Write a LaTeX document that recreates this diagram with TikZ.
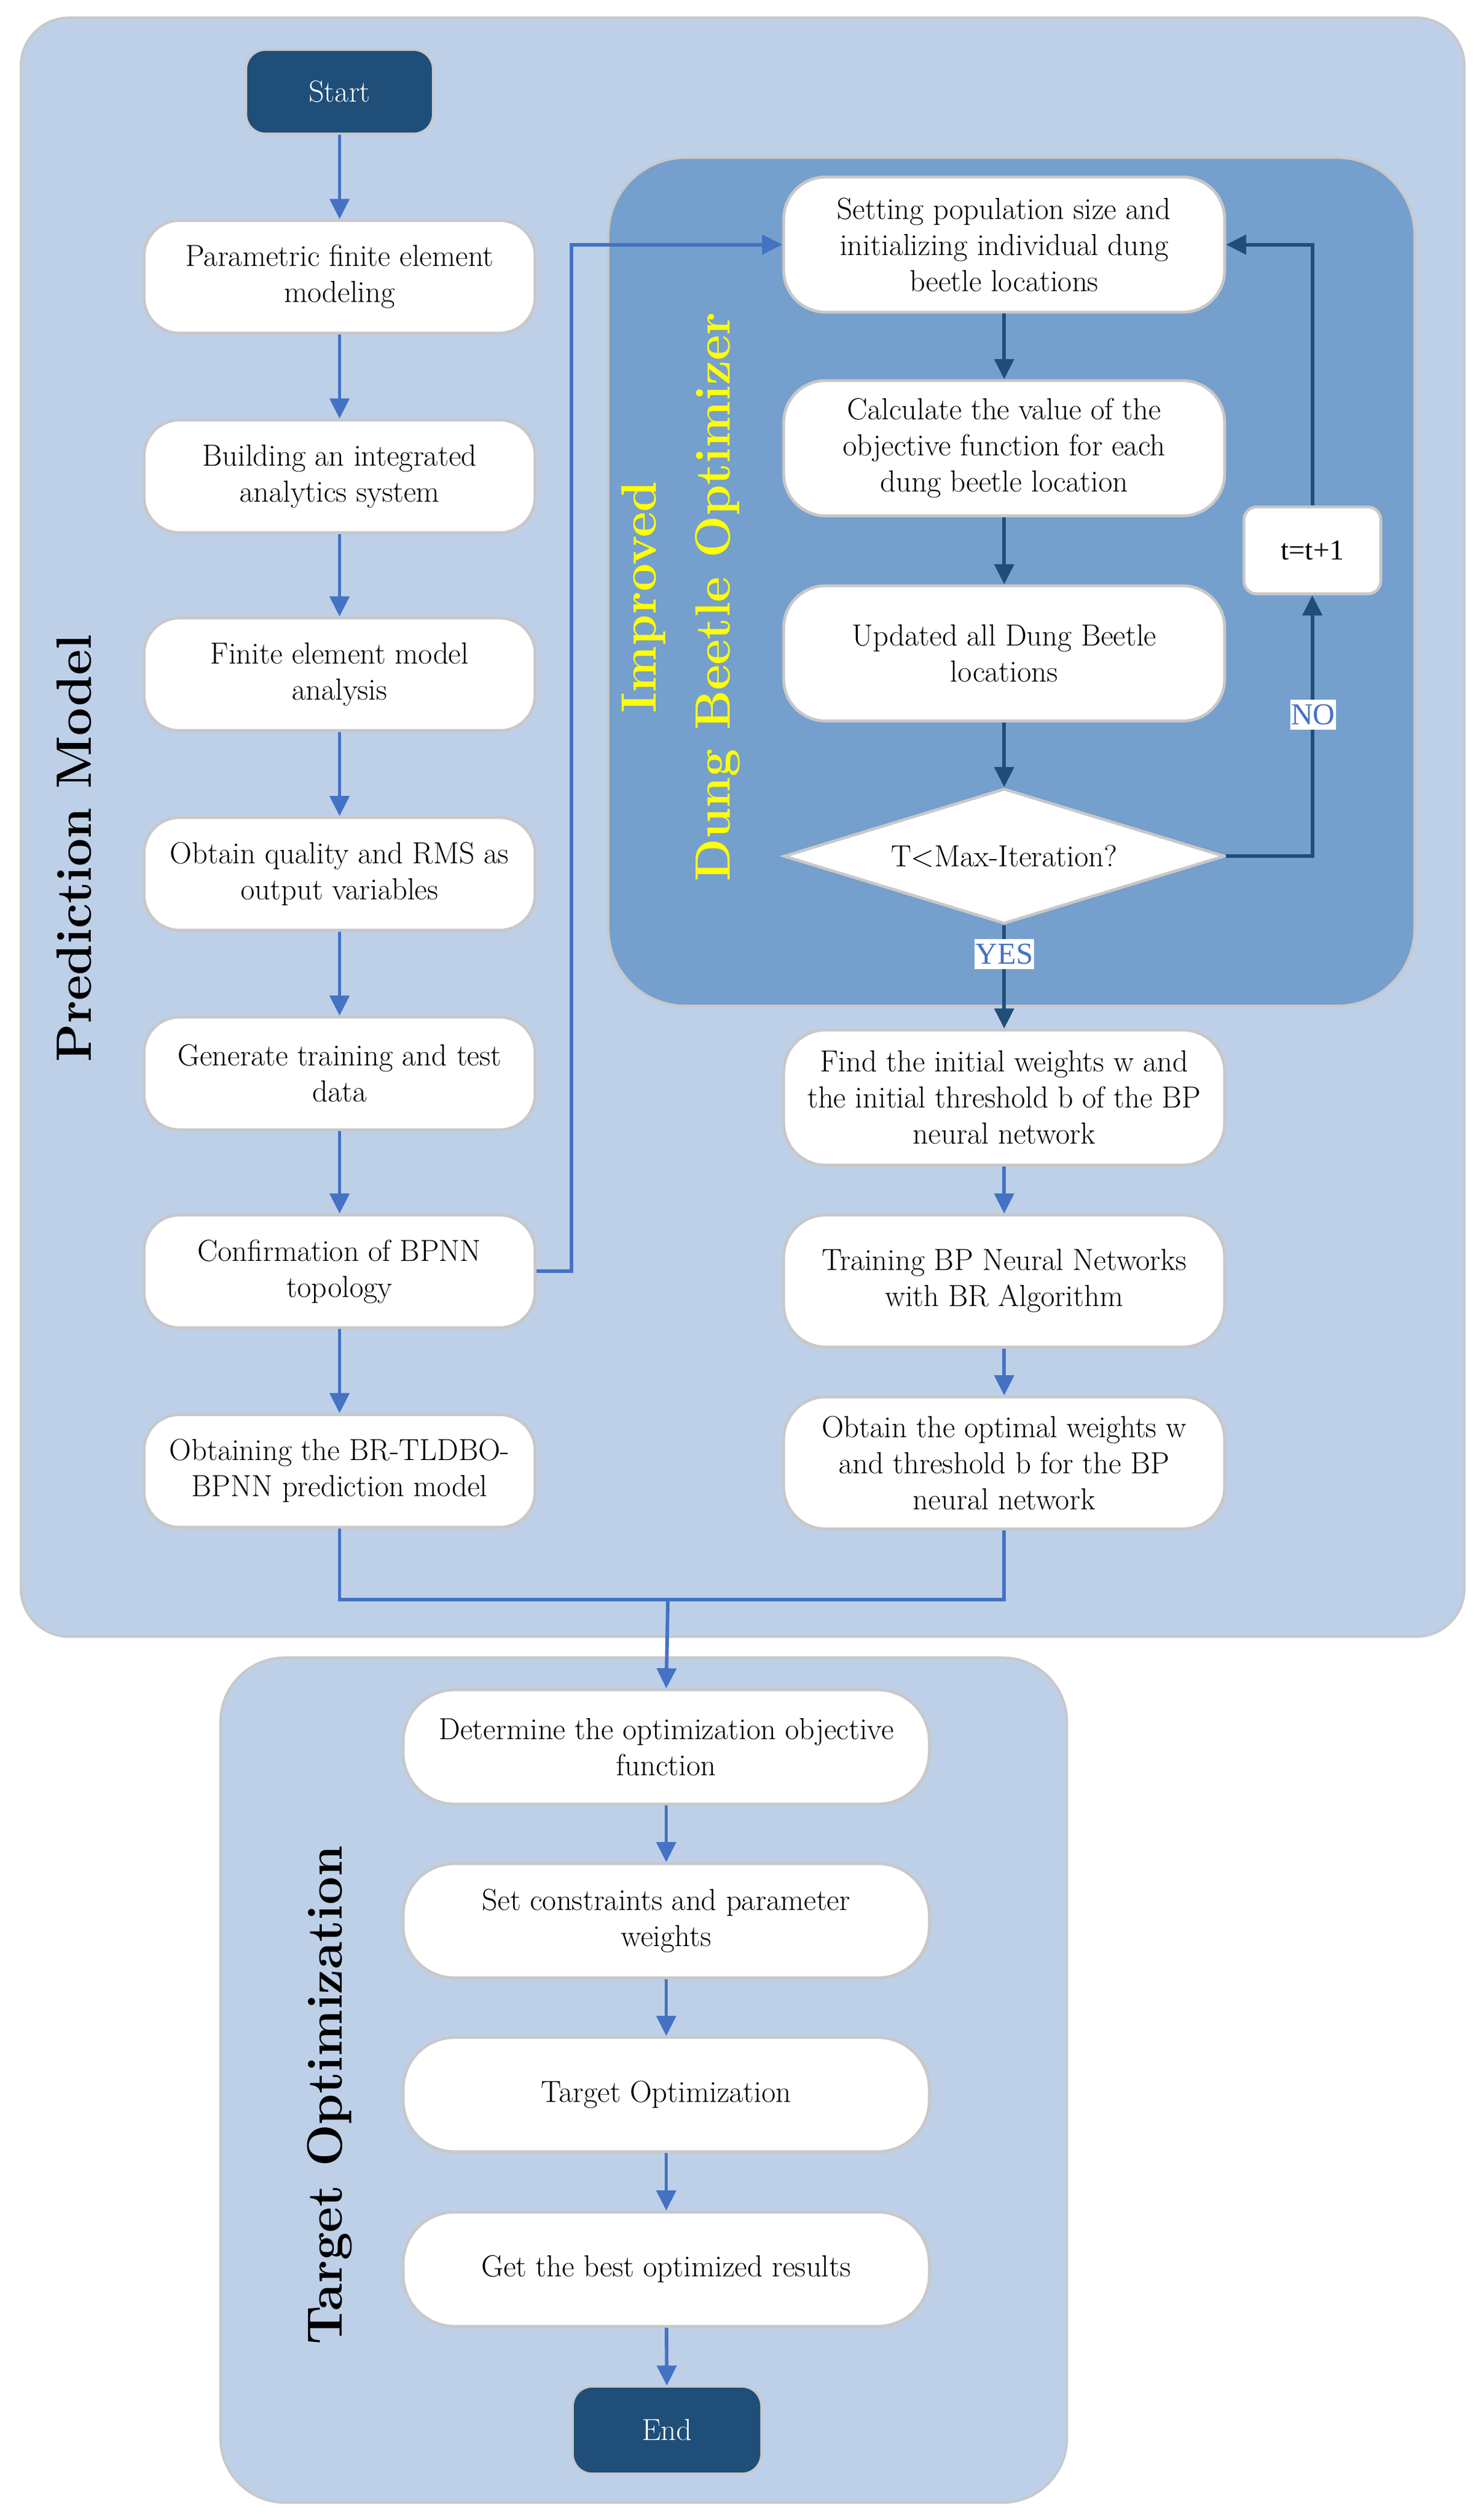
\documentclass[tikz,border=0pt]{standalone}
\usepackage{fontspec}
\newfontfamily\timesfont{Liberation Serif}
\usetikzlibrary{arrows.meta,shapes.geometric}
\definecolor{pmfill}{HTML}{BDD0E8}
\definecolor{dbofill}{HTML}{759FCC}
\definecolor{edgegray}{HTML}{C8C8C8}
\definecolor{navy}{HTML}{1F4E79}
\definecolor{lblue}{HTML}{4472C4}
\definecolor{ttl}{HTML}{FFFF00}
\begin{document}
\begin{tikzpicture}[x=1bp,y=-1bp,
  txt/.style={font=\fontsize{19}{22.5}\selectfont},
  basebox/.style={draw=edgegray, line width=1.8bp, fill=white, align=center, inner sep=0pt, txt},
  lbox/.style={basebox, rounded corners=22bp, minimum width=243bp, minimum height=70bp},
  rbox/.style={basebox, rounded corners=26bp, minimum width=274bp, minimum height=84bp},
  tbox/.style={basebox, rounded corners=32bp, minimum width=327bp, minimum height=71bp},
  term/.style={draw=edgegray, line width=1.2bp, fill=navy, text=white, rounded corners=12bp, inner sep=0pt, txt},
  region/.style={draw=edgegray, line width=1.5bp},
  title/.style={font=\fontsize{31}{46}\selectfont\bfseries, align=center, inner sep=0pt},
  la/.style={draw=lblue, line width=2.2bp, -{Triangle[length=12.5bp,width=12bp]}},
  ln/.style={draw=lblue, line width=2.2bp},
  da/.style={draw=navy, line width=2.2bp, -{Triangle[length=12.5bp,width=12bp]}},
  dn/.style={draw=navy, line width=2.2bp},
  yn/.style={fill=white, text=lblue, font=\timesfont\fontsize{19}{22}\selectfont, inner xsep=0.5bp, inner ysep=3bp}
]
\useasboundingbox (0,0) rectangle (922,1564);
\fill[white] (0,0) rectangle (922,1564);

% regions
\draw[region, fill=pmfill, rounded corners=30bp] (13,11) rectangle (910,1017);
\draw[region, fill=dbofill, rounded corners=48bp] (378,98) rectangle (879,625);
\draw[region, fill=pmfill, rounded corners=40bp] (137,1030) rectangle (663,1555);

% titles
\node[title, rotate=90] (pmtitle) at (46,527) {Prediction Model};
\node[title, rotate=90] (totitle) at (205,1302) {Target Optimization};
\node[title, rotate=90, text=ttl] (dbotitle) at (423,371) {Improved\\Dung Beetle Optimizer};

% left column
\node[term, minimum width=116bp, minimum height=52bp] (start) at (211,57) {Start};
\node[lbox] (b1) at (211,172) {Parametric finite element\\modeling};
\node[lbox] (b2) at (211,296) {Building an integrated\\analytics system};
\node[lbox] (b3) at (211,419) {Finite element model\\analysis};
\node[lbox] (b4) at (211,543) {Obtain quality and RMS as\\output variables};
\node[lbox] (b5) at (211,667) {Generate training and test\\data};
\node[lbox] (b6) at (211,790) {Confirmation of BPNN\\topology};
\node[lbox] (b7) at (211,914) {Obtaining the BR-TLDBO-\\BPNN prediction model};

% right column
\node[rbox] (r1) at (624,152) {Setting population size and\\initializing individual dung\\beetle locations};
\node[rbox] (r2) at (624,278.5) {Calculate the value of the\\objective function for each\\dung beetle location};
\node[rbox] (r3) at (624,406) {Updated all Dung Beetle\\locations};
\node[diamond, draw=edgegray, line width=1.8bp, fill=white, minimum width=274bp, minimum height=84bp, aspect=3.26, inner sep=0pt, txt] (dec) at (624,532) {T\textless Max-Iteration?};
\node[draw=edgegray, line width=1.8bp, fill=white, rounded corners=8bp, minimum width=85bp, minimum height=54bp, inner sep=0pt, font=\timesfont\fontsize{18}{21}\selectfont] (inc) at (815.5,342) {t=t+1};
\node[rbox] (r4) at (624,682) {Find the initial weights w and\\the initial threshold b of the BP\\neural network};
\node[rbox, minimum height=82bp] (r5) at (624,796) {Training BP Neural Networks\\with BR Algorithm};
\node[rbox, minimum height=82bp] (r6) at (624,909) {Obtain the optimal weights w\\and threshold b for the BP\\neural network};

% target optimization
\node[tbox] (t1) at (414,1085.5) {Determine the optimization objective\\function};
\node[tbox] (t2) at (414,1193.5) {Set constraints and parameter\\weights};
\node[tbox] (t3) at (414,1301.5) {Target Optimization};
\node[tbox] (t4) at (414,1410) {Get the best optimized results};
\node[term, minimum width=117bp, minimum height=54bp] (end) at (414.5,1510) {End};

% coordinates
\coordinate (c6) at (355,790);
\coordinate (c6t) at (355,152);
\coordinate (cm1) at (211,994);
\coordinate (cm2) at (624,994);
\coordinate (cmd) at (415,994);
\coordinate (cn1) at (815.5,532);
\coordinate (cn2) at (815.5,152);

% left arrows
\draw[la] (start) -- (b1);
\draw[la] (b1) -- (b2);
\draw[la] (b2) -- (b3);
\draw[la] (b3) -- (b4);
\draw[la] (b4) -- (b5);
\draw[la] (b5) -- (b6);
\draw[la] (b6) -- (b7);
\draw[la] (b6.east) -- (c6) -- (c6t) -- (r1.west);

% dbo arrows
\draw[da] (r1) -- (r2);
\draw[da] (r2) -- (r3);
\draw[da] (r3) -- (dec);
\draw[da] (dec.south) -- (r4.north);
\node[yn] (yes) at (624,593) {YES};
\draw[da] (dec.east) -- (cn1) -- (inc.south);
\node[yn] (no) at (816,444) {NO};
\draw[da] (inc.north) -- (cn2) -- (r1.east);

% lower right
\draw[la] (r4) -- (r5);
\draw[la] (r5) -- (r6);
\draw[ln] (b7.south) -- (cm1) -- (cm2) -- (r6.south);
\draw[la] (cmd) -- (t1.north);

% target
\draw[la] (t1) -- (t2);
\draw[la] (t2) -- (t3);
\draw[la] (t3) -- (t4);
\draw[la] (t4) -- (end);
\end{tikzpicture}
\end{document}
